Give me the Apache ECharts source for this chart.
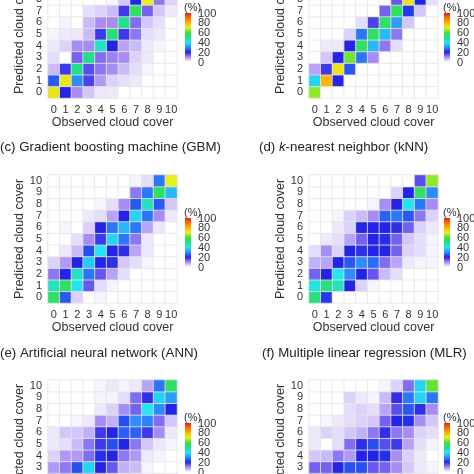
<!DOCTYPE html>
<html><head><meta charset="utf-8">
<script src="https://cdn.jsdelivr.net/npm/echarts@6/dist/echarts.min.js"></script>
<style>html,body{margin:0;padding:0;background:#fff}#c{width:474px;height:474px}</style>
</head><body><div id="c"></div>
<script>
const categories = ['0','1','2','3','4','5','6','7','8','9','10'];
const colorTicks = ['100','80','60','40','20','0'];
// rows: predicted 0..10, columns: observed 0..10 (%)
const panelA = [
 [72,20,10,5,2,2,0,0,0,0,0],
 [25,72,30,17,9,4,3,2,0,0,0],
 [6,18,50,16,12,10,6,3,1,0,0],
 [3,0,14,50,13,11,10,4,2,0,0],
 [2,4,10,10,45,20,8,6,2,1,0],
 [1,2,2,6,18,52,18,12,3,2,0],
 [0,1,0,6,10,10,50,13,5,3,0],
 [0,0,0,3,4,6,18,55,14,5,2],
 [0,0,0,0,0,1,5,20,70,12,4],
 [0,0,0,0,0,0,1,3,15,60,20],
 [0,0,0,0,0,0,0,1,3,18,75]];
const panelB = [
 [65,0,0,0,0,0,0,0,0,0,0],
 [38,80,20,0,0,0,0,0,0,0,0],
 [8,18,72,25,0,0,0,0,0,0,0],
 [0,5,20,63,28,10,0,0,0,0,0],
 [0,2,2,20,55,35,12,3,0,0,0],
 [0,0,0,4,28,55,35,12,0,0,0],
 [0,0,0,0,3,17,55,32,5,0,0],
 [0,0,0,0,0,0,14,55,22,5,0],
 [0,0,0,0,0,0,0,15,72,20,3],
 [0,0,0,0,0,0,0,0,5,60,20],
 [0,0,0,0,0,0,0,0,0,15,75]];
const panelC = [
 [55,25,4,0,1,0,0,0,0,0,0],
 [45,55,40,15,3,1,0,0,0,0,0],
 [12,20,45,28,15,8,3,0,0,0,0],
 [4,9,20,37,20,19,5,3,1,0,0],
 [0,2,6,24,40,20,19,8,2,0,0],
 [0,0,3,10,18,38,28,12,2,0,0],
 [0,1,0,4,20,28,35,28,8,2,0],
 [0,0,0,2,3,8,20,38,28,10,2],
 [0,0,0,0,1,3,10,25,45,25,5],
 [0,0,0,0,0,0,0,12,28,55,35],
 [0,0,0,0,0,0,0,1,3,28,70]];
const panelD = [
 [52,22,0,0,0,0,0,0,0,0,0],
 [42,52,45,20,4,1,0,0,0,0,0],
 [14,20,40,30,20,15,6,3,0,0,0],
 [7,8,20,25,30,27,13,8,2,1,1],
 [3,10,4,20,19,20,20,14,4,3,1],
 [0,2,3,8,14,20,21,14,5,3,1],
 [0,0,2,4,20,20,20,19,14,4,2],
 [0,0,1,4,6,10,26,28,25,12,4],
 [0,0,0,0,0,1,10,20,40,28,10],
 [0,0,0,0,0,0,0,4,20,55,30],
 [0,0,0,0,0,0,0,0,0,16,65]];
const panelE = [
 [45,20,8,3,1,0,0,0,0,0,0],
 [30,40,25,12,4,2,1,0,0,0,0],
 [12,18,28,20,12,6,3,1,0,0,0],
 [9,12,24,38,20,15,7,6,1,0,0],
 [4,9,9,13,21,20,12,9,2,1,0],
 [2,3,6,12,18,24,20,12,5,2,1],
 [2,5,5,7,18,20,26,26,18,10,2],
 [0,0,1,2,10,7,24,30,29,13,5],
 [0,0,0,0,2,4,10,14,40,30,20],
 [0,0,0,0,1,1,3,13,19,38,32],
 [0,0,0,0,1,2,1,2,8,28,55]];
const panelF = [
 [35,20,10,4,2,1,0,0,0,0,0],
 [30,30,22,12,5,2,1,0,0,0,0],
 [15,18,24,20,14,8,4,2,0,0,0],
 [14,14,20,24,24,15,14,10,5,2,1],
 [5,6,12,9,20,20,21,10,4,2,0],
 [2,0,3,13,19,24,16,18,8,3,1],
 [2,4,3,5,7,12,19,12,10,4,3],
 [0,1,2,3,4,5,14,20,21,10,5],
 [0,0,0,3,4,3,8,16,25,19,10],
 [0,0,0,4,2,1,6,19,28,38,28],
 [0,0,0,0,0,0,1,4,13,38,62]];
const panels = [panelA,panelB,panelC,panelD,panelE,panelF];
const stats = [null,null,
 ['N     = 3701','Bias = −0.00','RMSE = 1.03','R     = 0.97'],
 ['N     = 3701','Bias = 0.15','RMSE = 1.41','R     = 0.94'],
 ['N     = 3701','Bias = 0.03','RMSE = 1.69','R     = 0.91'],
 ['N     = 3701','Bias = −0.02','RMSE = 1.90','R     = 0.88']];

const lefts=[48,309], tops=[-30,175,380], W=129, H=128;
const cmap=['#ffffff','#a88cf6','#2424e6','#2d8cff','#22e6f0','#22e08a','#3ee03a','#e6f01e','#ffb400','#ff7000','#e8201c'];
const grid=[],xAxis=[],yAxis=[],series=[],graphic=[];
panels.forEach((m,i)=>{
  const col=i%2,row=Math.floor(i/2);
  const L=lefts[col],T=tops[row];
  grid.push({left:L,top:T,width:W,height:H,outerBoundsMode:'none',containLabel:false});
  const lab={fontSize:11,color:'#333',fontFamily:'Liberation Sans',interval:0};
  xAxis.push({type:'category',gridIndex:i,data:categories,axisLine:{show:false},axisTick:{show:false},
    axisLabel:Object.assign({margin:6},lab),name:'Observed cloud cover',nameLocation:'middle',nameGap:17,
    nameTextStyle:{fontSize:12.5,color:'#333',fontFamily:'Liberation Sans',verticalAlign:'top'}});
  yAxis.push({type:'category',gridIndex:i,data:categories,axisLine:{show:false},axisTick:{show:false},
    axisLabel:Object.assign({margin:6},lab),name:'Predicted cloud cover',nameLocation:'middle',nameGap:21,
    nameTextStyle:{fontSize:12.5,color:'#333',fontFamily:'Liberation Sans'}});
  const d=[];m.forEach((r,y)=>r.forEach((v,x)=>d.push([x,y,v])));
  series.push({type:'heatmap',xAxisIndex:i,yAxisIndex:i,data:d,itemStyle:{borderColor:'#e4e4e4',borderWidth:0.8},emphasis:{disabled:true}});
  if(stats[i]) stats[i].forEach((s,k)=>graphic.push({type:'text',left:L+5,top:T+4+k*9.7,
    style:{text:s,fontSize:9.5,fill:'#333',fontFamily:'Liberation Sans'}}));
  const cbx=col?444:185, cby=T+43;
  graphic.push({type:'rect',shape:{x:cbx,y:cby,width:6,height:49},
    style:{fill:{type:'linear',x:0,y:1,x2:0,y2:0,colorStops:cmap.map((c,k)=>({offset:k/10,color:c}))}}});
  graphic.push({type:'text',x:cbx-1,y:cby-11,style:{text:'(%)',fontSize:11,fill:'#333',fontFamily:'Liberation Sans'}});
  colorTicks.forEach((t,k)=>graphic.push({type:'text',x:cbx+13,y:cby+k*9.8-5,
    style:{text:t,fontSize:11,fill:'#333',fontFamily:'Liberation Sans'}}));
});
const titles=[
 {x:0,y:141,t:'(c) Gradient boosting machine (GBM)'},
 {x:259,y:141,t:'(d) {i|k}-nearest neighbor (kNN)'},
 {x:0,y:347,t:'(e) Artificial neural network (ANN)'},
 {x:262,y:347,t:'(f) Multiple linear regression (MLR)'}];
titles.forEach(o=>graphic.push({type:'text',x:o.x,y:o.y,style:{text:o.t,fontSize:13.3,fill:'#222',
  fontFamily:'Liberation Sans',rich:{i:{fontStyle:'italic',fontSize:13.3,fill:'#222',fontFamily:'Liberation Sans'}}}}));
const chart=echarts.init(document.getElementById('c'),null,{renderer:'canvas'});
chart.setOption({animation:false,grid,xAxis,yAxis,series,graphic,
  visualMap:{show:false,min:0,max:100,seriesIndex:[0,1,2,3,4,5],inRange:{color:cmap}}});
</script></body></html>
